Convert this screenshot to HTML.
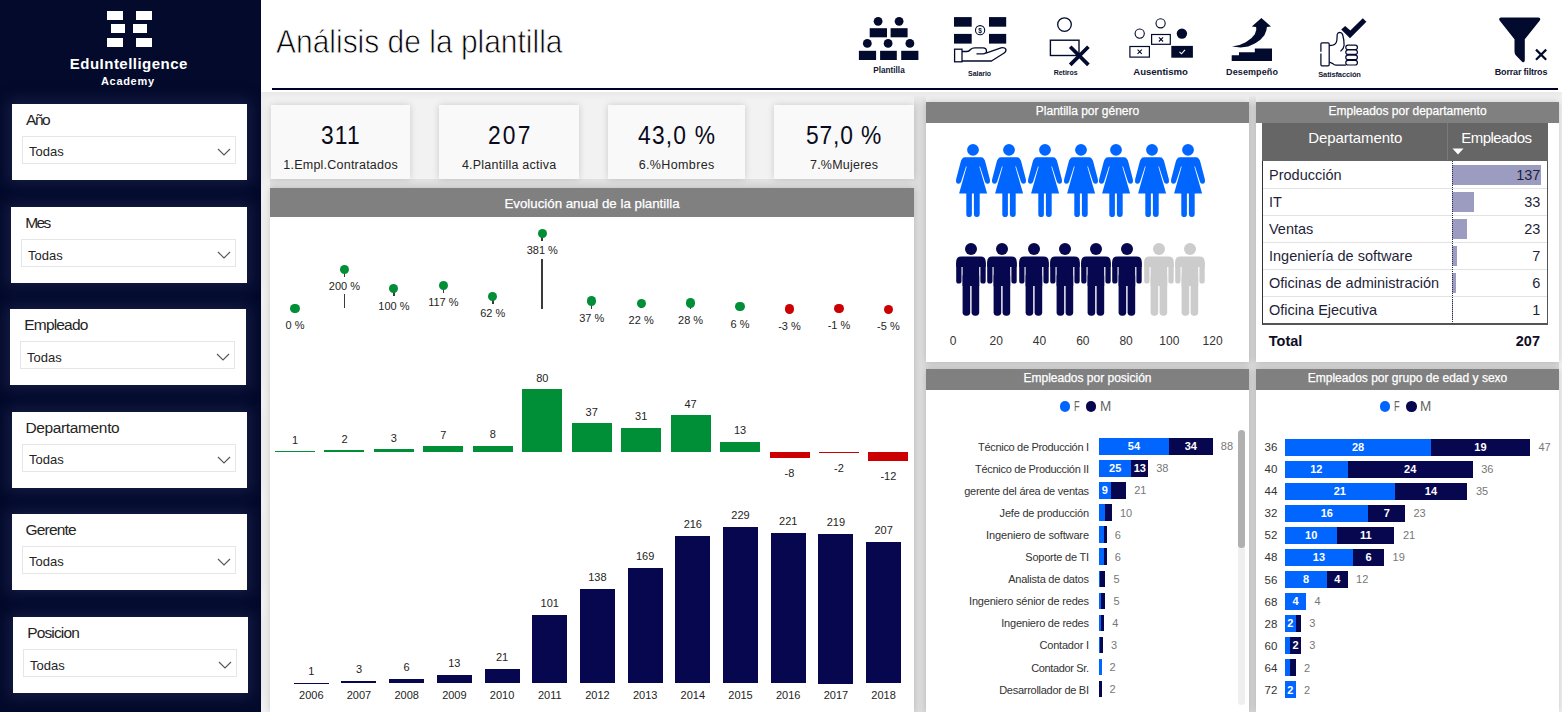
<!DOCTYPE html><html><head><meta charset="utf-8"><style>
*{margin:0;padding:0;box-sizing:border-box}
html,body{width:1562px;height:712px;overflow:hidden;background:#f2f2f2;font-family:"Liberation Sans",sans-serif}
.t{position:absolute;white-space:nowrap}
.r{position:absolute}
svg{position:absolute;overflow:visible}
</style></head><body>
<div class="r" style="left:261.00px;top:0.00px;width:1301.00px;height:92.00px;background:#ffffff;box-shadow:0 3px 8px rgba(0,0,0,0.05);"></div>
<div class="r" style="left:272.00px;top:88.00px;width:1286.00px;height:2.00px;background:#00002e;"></div>
<div class="t" style="left:276.00px;top:19.30px;font-size:32.5px;line-height:46px;color:#000000;transform:scaleX(0.922);transform-origin:0 0;-webkit-text-stroke:0.8px #ffffff;">Análisis de la plantilla</div>
<div class="r" style="left:0.00px;top:0.00px;width:261.00px;height:712.00px;background:#030a2b;"></div>
<div class="r" style="left:107.00px;top:10.70px;width:15.50px;height:9.30px;background:#ffffff;"></div>
<div class="r" style="left:135.80px;top:10.70px;width:15.80px;height:9.30px;background:#ffffff;"></div>
<div class="r" style="left:111.20px;top:24.20px;width:13.50px;height:8.80px;background:#ffffff;"></div>
<div class="r" style="left:133.30px;top:24.20px;width:13.60px;height:8.80px;background:#ffffff;"></div>
<div class="r" style="left:107.00px;top:38.00px;width:15.50px;height:9.00px;background:#ffffff;"></div>
<div class="r" style="left:135.80px;top:38.00px;width:15.80px;height:9.00px;background:#ffffff;"></div>
<div class="t" style="left:69.85px;top:53.30px;font-size:15px;line-height:21px;color:#ffffff;font-weight:bold;letter-spacing:0.476px;">EduIntelligence</div>
<div class="t" style="left:101.00px;top:71.30px;font-size:11px;line-height:20px;color:#ffffff;font-weight:bold;letter-spacing:0.681px;">Academy</div>
<div class="r" style="left:12.00px;top:104.00px;width:235.00px;height:76.00px;background:#ffffff;box-shadow:0 0 14px 4px rgba(40,48,95,0.5);"></div>
<div class="r" style="left:11.00px;top:207.00px;width:236.00px;height:76.00px;background:#ffffff;box-shadow:0 0 14px 4px rgba(40,48,95,0.5);"></div>
<div class="r" style="left:10.00px;top:309.00px;width:236.00px;height:76.00px;background:#ffffff;box-shadow:0 0 14px 4px rgba(40,48,95,0.5);"></div>
<div class="r" style="left:12.00px;top:412.00px;width:235.00px;height:76.00px;background:#ffffff;box-shadow:0 0 14px 4px rgba(40,48,95,0.5);"></div>
<div class="r" style="left:12.00px;top:514.00px;width:235.00px;height:76.00px;background:#ffffff;box-shadow:0 0 14px 4px rgba(40,48,95,0.5);"></div>
<div class="r" style="left:13.00px;top:617.00px;width:235.00px;height:76.00px;background:#ffffff;box-shadow:0 0 14px 4px rgba(40,48,95,0.5);"></div>
<div class="r" style="left:12.00px;top:104.00px;width:235.00px;height:76.00px;background:#ffffff;"></div>
<div class="t" style="left:26.00px;top:108.80px;font-size:15.5px;line-height:22px;color:#252423;letter-spacing:-1.439px;">Año</div>
<div class="r" style="left:22.00px;top:136.00px;width:214.00px;height:28.00px;background:#ffffff;border:1px solid #e6e6e6;"></div>
<div class="t" style="left:29.00px;top:141.80px;font-size:13px;line-height:20px;color:#252423;">Todas</div>
<svg style="left:217px;top:148px" width="14" height="8"><path d="M1 1 L7 7 L13 1" fill="none" stroke="#555" stroke-width="1.1"/></svg>
<div class="r" style="left:11.00px;top:207.00px;width:236.00px;height:76.00px;background:#ffffff;"></div>
<div class="t" style="left:25.30px;top:211.80px;font-size:15.5px;line-height:22px;color:#252423;letter-spacing:-1.640px;">Mes</div>
<div class="r" style="left:21.00px;top:239.00px;width:215.00px;height:28.00px;background:#ffffff;border:1px solid #e6e6e6;"></div>
<div class="t" style="left:28.00px;top:245.80px;font-size:13px;line-height:20px;color:#252423;">Todas</div>
<svg style="left:217px;top:251px" width="14" height="8"><path d="M1 1 L7 7 L13 1" fill="none" stroke="#555" stroke-width="1.1"/></svg>
<div class="r" style="left:10.00px;top:309.00px;width:236.00px;height:76.00px;background:#ffffff;"></div>
<div class="t" style="left:24.30px;top:313.80px;font-size:15.5px;line-height:22px;color:#252423;letter-spacing:-0.827px;">Empleado</div>
<div class="r" style="left:20.00px;top:341.00px;width:215.00px;height:28.00px;background:#ffffff;border:1px solid #e6e6e6;"></div>
<div class="t" style="left:27.00px;top:347.80px;font-size:13px;line-height:20px;color:#252423;">Todas</div>
<svg style="left:216px;top:353px" width="14" height="8"><path d="M1 1 L7 7 L13 1" fill="none" stroke="#555" stroke-width="1.1"/></svg>
<div class="r" style="left:12.00px;top:412.00px;width:235.00px;height:76.00px;background:#ffffff;"></div>
<div class="t" style="left:25.40px;top:416.80px;font-size:15.5px;line-height:22px;color:#252423;letter-spacing:-0.356px;">Departamento</div>
<div class="r" style="left:22.00px;top:444.00px;width:214.00px;height:28.00px;background:#ffffff;border:1px solid #e6e6e6;"></div>
<div class="t" style="left:29.00px;top:449.80px;font-size:13px;line-height:20px;color:#252423;">Todas</div>
<svg style="left:217px;top:456px" width="14" height="8"><path d="M1 1 L7 7 L13 1" fill="none" stroke="#555" stroke-width="1.1"/></svg>
<div class="r" style="left:12.00px;top:514.00px;width:235.00px;height:76.00px;background:#ffffff;"></div>
<div class="t" style="left:25.40px;top:518.80px;font-size:15.5px;line-height:22px;color:#252423;letter-spacing:-0.784px;">Gerente</div>
<div class="r" style="left:22.00px;top:546.00px;width:214.00px;height:28.00px;background:#ffffff;border:1px solid #e6e6e6;"></div>
<div class="t" style="left:29.00px;top:551.80px;font-size:13px;line-height:20px;color:#252423;">Todas</div>
<svg style="left:217px;top:558px" width="14" height="8"><path d="M1 1 L7 7 L13 1" fill="none" stroke="#555" stroke-width="1.1"/></svg>
<div class="r" style="left:13.00px;top:617.00px;width:235.00px;height:76.00px;background:#ffffff;"></div>
<div class="t" style="left:27.20px;top:621.80px;font-size:15.5px;line-height:22px;color:#252423;letter-spacing:-0.855px;">Posicion</div>
<div class="r" style="left:23.00px;top:649.00px;width:214.00px;height:28.00px;background:#ffffff;border:1px solid #e6e6e6;"></div>
<div class="t" style="left:30.00px;top:655.80px;font-size:13px;line-height:20px;color:#252423;">Todas</div>
<svg style="left:218px;top:661px" width="14" height="8"><path d="M1 1 L7 7 L13 1" fill="none" stroke="#555" stroke-width="1.1"/></svg>
<div class="r" style="left:914.00px;top:94.00px;width:12.00px;height:618.00px;background:linear-gradient(#ececec,#dddddd 12px);"></div>
<div class="r" style="left:1249.00px;top:94.00px;width:7.00px;height:618.00px;background:linear-gradient(#ececec,#d9d9d9 12px);"></div>
<div class="r" style="left:926.00px;top:362.00px;width:633.00px;height:7.00px;background:#dadada;"></div>
<div class="r" style="left:270.00px;top:179.00px;width:644.00px;height:9.00px;background:#e0e0e0;"></div>
<div class="r" style="left:271.00px;top:105.00px;width:139.00px;height:74.00px;background:#f9f9f9;box-shadow:0 0 7px rgba(0,0,0,0.16);"></div>
<div class="t" style="left:321.15px;top:116.30px;font-size:26.5px;line-height:38px;color:#0a0a1a;letter-spacing:1.379px;transform:scaleX(0.86);transform-origin:0 0;">311</div>
<div class="t" style="left:283.35px;top:155.30px;font-size:12.5px;line-height:20px;color:#252423;letter-spacing:0.225px;">1.Empl.Contratados</div>
<div class="r" style="left:439.00px;top:105.00px;width:140.00px;height:74.00px;background:#f9f9f9;box-shadow:0 0 7px rgba(0,0,0,0.16);"></div>
<div class="t" style="left:487.85px;top:116.30px;font-size:26.5px;line-height:38px;color:#0a0a1a;letter-spacing:2.488px;transform:scaleX(0.86);transform-origin:0 0;">207</div>
<div class="t" style="left:461.90px;top:155.30px;font-size:12.5px;line-height:20px;color:#252423;letter-spacing:0.228px;">4.Plantilla activa</div>
<div class="r" style="left:608.00px;top:105.00px;width:137.00px;height:74.00px;background:#f9f9f9;box-shadow:0 0 7px rgba(0,0,0,0.16);"></div>
<div class="t" style="left:638.00px;top:116.30px;font-size:26.5px;line-height:38px;color:#0a0a1a;letter-spacing:1.407px;transform:scaleX(0.86);transform-origin:0 0;">43,0 %</div>
<div class="t" style="left:638.70px;top:155.30px;font-size:12.5px;line-height:20px;color:#252423;letter-spacing:0.373px;">6.%Hombres</div>
<div class="r" style="left:774.00px;top:105.00px;width:140.00px;height:74.00px;background:#f9f9f9;box-shadow:0 0 7px rgba(0,0,0,0.16);"></div>
<div class="t" style="left:806.40px;top:116.30px;font-size:26.5px;line-height:38px;color:#0a0a1a;letter-spacing:0.989px;transform:scaleX(0.86);transform-origin:0 0;">57,0 %</div>
<div class="t" style="left:810.00px;top:155.30px;font-size:12.5px;line-height:20px;color:#252423;letter-spacing:0.223px;">7.%Mujeres</div>
<div class="r" style="left:270.00px;top:188.00px;width:644.00px;height:524.00px;background:#ffffff;box-shadow:0 0 7px rgba(0,0,0,0.18);"></div>
<div class="r" style="left:270.00px;top:188.00px;width:644.00px;height:29.00px;background:#808080;"></div>
<div class="t" style="left:504.39px;top:193.80px;font-size:13.3px;line-height:20px;color:#ffffff;-webkit-text-stroke:0.25px #ffffff;">Evolución anual de la plantilla</div>
<div class="r" style="left:926.00px;top:102.00px;width:323.00px;height:260.00px;background:#ffffff;box-shadow:0 0 7px rgba(0,0,0,0.18);"></div>
<div class="r" style="left:926.00px;top:102.00px;width:323.00px;height:21.00px;background:#808080;"></div>
<div class="t" style="left:1035.80px;top:101.30px;font-size:12px;line-height:20px;color:#ffffff;-webkit-text-stroke:0.25px #ffffff;">Plantilla por género</div>
<div class="r" style="left:1256.00px;top:102.00px;width:303.00px;height:260.00px;background:#ffffff;box-shadow:0 0 7px rgba(0,0,0,0.18);"></div>
<div class="r" style="left:1256.00px;top:102.00px;width:303.00px;height:21.00px;background:#808080;"></div>
<div class="t" style="left:1328.46px;top:101.30px;font-size:12px;line-height:20px;color:#ffffff;-webkit-text-stroke:0.25px #ffffff;">Empleados por departamento</div>
<div class="r" style="left:926.00px;top:369.00px;width:323.00px;height:343.00px;background:#ffffff;box-shadow:0 0 7px rgba(0,0,0,0.18);"></div>
<div class="r" style="left:926.00px;top:369.00px;width:323.00px;height:21.00px;background:#808080;"></div>
<div class="t" style="left:1023.47px;top:368.30px;font-size:12px;line-height:20px;color:#ffffff;-webkit-text-stroke:0.25px #ffffff;">Empleados por posición</div>
<div class="r" style="left:1256.00px;top:369.00px;width:303.00px;height:343.00px;background:#ffffff;box-shadow:0 0 7px rgba(0,0,0,0.18);"></div>
<div class="r" style="left:1256.00px;top:369.00px;width:303.00px;height:21.00px;background:#808080;"></div>
<div class="t" style="left:1307.78px;top:368.30px;font-size:12px;line-height:20px;color:#ffffff;-webkit-text-stroke:0.25px #ffffff;">Empleados por grupo de edad y sexo</div>
<div class="r" style="left:283.52px;top:315.90px;width:22.95px;height:17.50px;background:#ffffff;"></div>
<div class="t" style="left:285.52px;top:315.30px;font-size:11px;line-height:20px;color:#252423;">0 %</div>
<div class="r" style="left:290.40px;top:303.80px;width:9.2px;height:9.2px;border-radius:50%;background:#008e37"></div>
<div class="r" style="left:275.00px;top:451.02px;width:40.00px;height:0.78px;background:#008e37;"></div>
<div class="t" style="left:291.94px;top:430.30px;font-size:11px;line-height:20px;color:#252423;">1</div>
<div class="r" style="left:293.80px;top:682.82px;width:35.00px;height:0.68px;background:#07074f;"></div>
<div class="t" style="left:308.24px;top:661.30px;font-size:11px;line-height:20px;color:#252423;">1</div>
<div class="t" style="left:299.07px;top:685.30px;font-size:11px;line-height:20px;color:#252423;">2006</div>
<div class="r" style="left:343.65px;top:269.20px;width:1.60px;height:39.30px;background:#3a3a3a;"></div>
<div class="r" style="left:326.86px;top:276.70px;width:35.19px;height:17.50px;background:#ffffff;"></div>
<div class="t" style="left:328.86px;top:276.30px;font-size:11px;line-height:20px;color:#252423;">200 %</div>
<div class="r" style="left:339.85px;top:264.60px;width:9.2px;height:9.2px;border-radius:50%;background:#008e37"></div>
<div class="r" style="left:324.45px;top:450.24px;width:40.00px;height:1.56px;background:#008e37;"></div>
<div class="t" style="left:341.39px;top:429.30px;font-size:11px;line-height:20px;color:#252423;">2</div>
<div class="r" style="left:341.49px;top:681.46px;width:35.00px;height:2.04px;background:#07074f;"></div>
<div class="t" style="left:355.93px;top:659.30px;font-size:11px;line-height:20px;color:#252423;">3</div>
<div class="t" style="left:346.76px;top:685.30px;font-size:11px;line-height:20px;color:#252423;">2007</div>
<div class="r" style="left:393.10px;top:288.80px;width:1.60px;height:19.70px;background:#3a3a3a;"></div>
<div class="r" style="left:376.31px;top:296.30px;width:35.19px;height:17.50px;background:#ffffff;"></div>
<div class="t" style="left:378.31px;top:296.30px;font-size:11px;line-height:20px;color:#252423;">100 %</div>
<div class="r" style="left:389.30px;top:284.20px;width:9.2px;height:9.2px;border-radius:50%;background:#008e37"></div>
<div class="r" style="left:373.90px;top:449.46px;width:40.00px;height:2.34px;background:#008e37;"></div>
<div class="t" style="left:390.84px;top:428.30px;font-size:11px;line-height:20px;color:#252423;">3</div>
<div class="r" style="left:389.18px;top:679.41px;width:35.00px;height:4.09px;background:#07074f;"></div>
<div class="t" style="left:403.62px;top:657.30px;font-size:11px;line-height:20px;color:#252423;">6</div>
<div class="t" style="left:394.45px;top:685.30px;font-size:11px;line-height:20px;color:#252423;">2008</div>
<div class="r" style="left:442.55px;top:285.50px;width:1.60px;height:23.00px;background:#3a3a3a;"></div>
<div class="r" style="left:426.16px;top:293.00px;width:34.37px;height:17.50px;background:#ffffff;"></div>
<div class="t" style="left:428.16px;top:292.30px;font-size:11px;line-height:20px;color:#252423;">117 %</div>
<div class="r" style="left:438.75px;top:280.90px;width:9.2px;height:9.2px;border-radius:50%;background:#008e37"></div>
<div class="r" style="left:423.35px;top:446.34px;width:40.00px;height:5.46px;background:#008e37;"></div>
<div class="t" style="left:440.29px;top:425.30px;font-size:11px;line-height:20px;color:#252423;">7</div>
<div class="r" style="left:436.87px;top:674.64px;width:35.00px;height:8.86px;background:#07074f;"></div>
<div class="t" style="left:448.25px;top:653.30px;font-size:11px;line-height:20px;color:#252423;">13</div>
<div class="t" style="left:442.14px;top:685.30px;font-size:11px;line-height:20px;color:#252423;">2009</div>
<div class="r" style="left:492.00px;top:296.40px;width:1.60px;height:12.10px;background:#3a3a3a;"></div>
<div class="r" style="left:478.26px;top:303.90px;width:29.07px;height:17.50px;background:#ffffff;"></div>
<div class="t" style="left:480.26px;top:303.30px;font-size:11px;line-height:20px;color:#252423;">62 %</div>
<div class="r" style="left:488.20px;top:291.80px;width:9.2px;height:9.2px;border-radius:50%;background:#008e37"></div>
<div class="r" style="left:472.80px;top:445.56px;width:40.00px;height:6.24px;background:#008e37;"></div>
<div class="t" style="left:489.74px;top:424.30px;font-size:11px;line-height:20px;color:#252423;">8</div>
<div class="r" style="left:484.56px;top:669.19px;width:35.00px;height:14.31px;background:#07074f;"></div>
<div class="t" style="left:495.94px;top:647.30px;font-size:11px;line-height:20px;color:#252423;">21</div>
<div class="t" style="left:489.83px;top:685.30px;font-size:11px;line-height:20px;color:#252423;">2010</div>
<div class="r" style="left:541.45px;top:233.50px;width:1.60px;height:75.00px;background:#3a3a3a;"></div>
<div class="r" style="left:524.66px;top:241.00px;width:35.19px;height:17.50px;background:#ffffff;"></div>
<div class="t" style="left:526.66px;top:240.30px;font-size:11px;line-height:20px;color:#252423;">381 %</div>
<div class="r" style="left:537.65px;top:228.90px;width:9.2px;height:9.2px;border-radius:50%;background:#008e37"></div>
<div class="r" style="left:522.25px;top:389.40px;width:40.00px;height:62.40px;background:#008e37;"></div>
<div class="t" style="left:536.13px;top:368.30px;font-size:11px;line-height:20px;color:#252423;">80</div>
<div class="r" style="left:532.25px;top:614.67px;width:35.00px;height:68.83px;background:#07074f;"></div>
<div class="t" style="left:540.57px;top:593.30px;font-size:11px;line-height:20px;color:#252423;">101</div>
<div class="t" style="left:537.92px;top:685.30px;font-size:11px;line-height:20px;color:#252423;">2011</div>
<div class="r" style="left:590.90px;top:301.00px;width:1.60px;height:7.50px;background:#3a3a3a;"></div>
<div class="r" style="left:577.16px;top:308.50px;width:29.07px;height:17.50px;background:#ffffff;"></div>
<div class="t" style="left:579.16px;top:308.30px;font-size:11px;line-height:20px;color:#252423;">37 %</div>
<div class="r" style="left:587.10px;top:296.40px;width:9.2px;height:9.2px;border-radius:50%;background:#008e37"></div>
<div class="r" style="left:571.70px;top:422.94px;width:40.00px;height:28.86px;background:#008e37;"></div>
<div class="t" style="left:585.58px;top:402.30px;font-size:11px;line-height:20px;color:#252423;">37</div>
<div class="r" style="left:579.94px;top:589.45px;width:35.00px;height:94.05px;background:#07074f;"></div>
<div class="t" style="left:588.26px;top:567.30px;font-size:11px;line-height:20px;color:#252423;">138</div>
<div class="t" style="left:585.21px;top:685.30px;font-size:11px;line-height:20px;color:#252423;">2012</div>
<div class="r" style="left:640.35px;top:303.60px;width:1.60px;height:4.90px;background:#3a3a3a;"></div>
<div class="r" style="left:626.61px;top:311.10px;width:29.07px;height:17.50px;background:#ffffff;"></div>
<div class="t" style="left:628.61px;top:310.30px;font-size:11px;line-height:20px;color:#252423;">22 %</div>
<div class="r" style="left:636.55px;top:299.00px;width:9.2px;height:9.2px;border-radius:50%;background:#008e37"></div>
<div class="r" style="left:621.15px;top:427.62px;width:40.00px;height:24.18px;background:#008e37;"></div>
<div class="t" style="left:635.03px;top:406.30px;font-size:11px;line-height:20px;color:#252423;">31</div>
<div class="r" style="left:627.63px;top:568.33px;width:35.00px;height:115.17px;background:#07074f;"></div>
<div class="t" style="left:635.95px;top:546.30px;font-size:11px;line-height:20px;color:#252423;">169</div>
<div class="t" style="left:632.90px;top:685.30px;font-size:11px;line-height:20px;color:#252423;">2013</div>
<div class="r" style="left:689.80px;top:303.00px;width:1.60px;height:5.50px;background:#3a3a3a;"></div>
<div class="r" style="left:676.06px;top:310.50px;width:29.07px;height:17.50px;background:#ffffff;"></div>
<div class="t" style="left:678.06px;top:310.30px;font-size:11px;line-height:20px;color:#252423;">28 %</div>
<div class="r" style="left:686.00px;top:298.40px;width:9.2px;height:9.2px;border-radius:50%;background:#008e37"></div>
<div class="r" style="left:670.60px;top:415.14px;width:40.00px;height:36.66px;background:#008e37;"></div>
<div class="t" style="left:684.48px;top:394.30px;font-size:11px;line-height:20px;color:#252423;">47</div>
<div class="r" style="left:675.32px;top:536.30px;width:35.00px;height:147.20px;background:#07074f;"></div>
<div class="t" style="left:683.64px;top:514.30px;font-size:11px;line-height:20px;color:#252423;">216</div>
<div class="t" style="left:680.59px;top:685.30px;font-size:11px;line-height:20px;color:#252423;">2014</div>
<div class="r" style="left:728.57px;top:314.40px;width:22.95px;height:17.50px;background:#ffffff;"></div>
<div class="t" style="left:730.57px;top:314.30px;font-size:11px;line-height:20px;color:#252423;">6 %</div>
<div class="r" style="left:735.45px;top:302.30px;width:9.2px;height:9.2px;border-radius:50%;background:#008e37"></div>
<div class="r" style="left:720.05px;top:441.66px;width:40.00px;height:10.14px;background:#008e37;"></div>
<div class="t" style="left:733.93px;top:420.30px;font-size:11px;line-height:20px;color:#252423;">13</div>
<div class="r" style="left:723.01px;top:527.44px;width:35.00px;height:156.06px;background:#07074f;"></div>
<div class="t" style="left:731.33px;top:505.30px;font-size:11px;line-height:20px;color:#252423;">229</div>
<div class="t" style="left:728.28px;top:685.30px;font-size:11px;line-height:20px;color:#252423;">2015</div>
<div class="r" style="left:776.19px;top:316.50px;width:26.62px;height:17.50px;background:#ffffff;"></div>
<div class="t" style="left:778.19px;top:316.30px;font-size:11px;line-height:20px;color:#252423;">-3 %</div>
<div class="r" style="left:784.90px;top:304.40px;width:9.2px;height:9.2px;border-radius:50%;background:#cc0000"></div>
<div class="r" style="left:769.50px;top:451.80px;width:40.00px;height:6.24px;background:#cc0000;"></div>
<div class="t" style="left:784.61px;top:463.30px;font-size:11px;line-height:20px;color:#252423;">-8</div>
<div class="r" style="left:770.70px;top:532.89px;width:35.00px;height:150.61px;background:#07074f;"></div>
<div class="t" style="left:779.02px;top:511.30px;font-size:11px;line-height:20px;color:#252423;">221</div>
<div class="t" style="left:775.97px;top:685.30px;font-size:11px;line-height:20px;color:#252423;">2016</div>
<div class="r" style="left:825.64px;top:315.90px;width:26.62px;height:17.50px;background:#ffffff;"></div>
<div class="t" style="left:827.64px;top:315.30px;font-size:11px;line-height:20px;color:#252423;">-1 %</div>
<div class="r" style="left:834.35px;top:303.80px;width:9.2px;height:9.2px;border-radius:50%;background:#cc0000"></div>
<div class="r" style="left:818.95px;top:451.80px;width:40.00px;height:1.56px;background:#cc0000;"></div>
<div class="t" style="left:834.06px;top:458.30px;font-size:11px;line-height:20px;color:#252423;">-2</div>
<div class="r" style="left:818.39px;top:534.25px;width:35.00px;height:149.25px;background:#07074f;"></div>
<div class="t" style="left:826.71px;top:512.30px;font-size:11px;line-height:20px;color:#252423;">219</div>
<div class="t" style="left:823.66px;top:685.30px;font-size:11px;line-height:20px;color:#252423;">2017</div>
<div class="r" style="left:875.09px;top:316.80px;width:26.62px;height:17.50px;background:#ffffff;"></div>
<div class="t" style="left:877.09px;top:316.30px;font-size:11px;line-height:20px;color:#252423;">-5 %</div>
<div class="r" style="left:883.80px;top:304.70px;width:9.2px;height:9.2px;border-radius:50%;background:#cc0000"></div>
<div class="r" style="left:868.40px;top:451.80px;width:40.00px;height:9.36px;background:#cc0000;"></div>
<div class="t" style="left:880.45px;top:466.30px;font-size:11px;line-height:20px;color:#252423;">-12</div>
<div class="r" style="left:866.08px;top:542.43px;width:35.00px;height:141.07px;background:#07074f;"></div>
<div class="t" style="left:874.40px;top:520.30px;font-size:11px;line-height:20px;color:#252423;">207</div>
<div class="t" style="left:871.35px;top:685.30px;font-size:11px;line-height:20px;color:#252423;">2018</div>
<svg style="left:953.00px;top:144.10px" width="40" height="76" viewBox="-20 0 40 76"><g fill="#0066ff" stroke="none"><circle cx="0" cy="5.8" r="5.9"/><path d="M-7.8 13.2 L7.8 13.2 Q11.5 13.2 12.6 19 L16.9 35.5 Q17.5 39.8 14.5 39.8 Q12.5 39.8 12 38 L7 22.4 L-7 22.4 L-12 38 Q-12.5 39.8 -14.5 39.8 Q-17.5 39.8 -16.9 35.5 L-12.6 19 Q-11.5 13.2 -7.8 13.2 Z"/><path d="M-6.1 21.8 L6.1 21.8 L14.1 49.4 L-13.9 49.4 Z"/><rect x="-6.7" y="44" width="5.6" height="29" rx="2.8"/><rect x="0.9" y="44" width="5.8" height="29" rx="2.9"/></g></svg>
<svg style="left:988.85px;top:144.10px" width="40" height="76" viewBox="-20 0 40 76"><g fill="#0066ff" stroke="none"><circle cx="0" cy="5.8" r="5.9"/><path d="M-7.8 13.2 L7.8 13.2 Q11.5 13.2 12.6 19 L16.9 35.5 Q17.5 39.8 14.5 39.8 Q12.5 39.8 12 38 L7 22.4 L-7 22.4 L-12 38 Q-12.5 39.8 -14.5 39.8 Q-17.5 39.8 -16.9 35.5 L-12.6 19 Q-11.5 13.2 -7.8 13.2 Z"/><path d="M-6.1 21.8 L6.1 21.8 L14.1 49.4 L-13.9 49.4 Z"/><rect x="-6.7" y="44" width="5.6" height="29" rx="2.8"/><rect x="0.9" y="44" width="5.8" height="29" rx="2.9"/></g></svg>
<svg style="left:1024.70px;top:144.10px" width="40" height="76" viewBox="-20 0 40 76"><g fill="#0066ff" stroke="none"><circle cx="0" cy="5.8" r="5.9"/><path d="M-7.8 13.2 L7.8 13.2 Q11.5 13.2 12.6 19 L16.9 35.5 Q17.5 39.8 14.5 39.8 Q12.5 39.8 12 38 L7 22.4 L-7 22.4 L-12 38 Q-12.5 39.8 -14.5 39.8 Q-17.5 39.8 -16.9 35.5 L-12.6 19 Q-11.5 13.2 -7.8 13.2 Z"/><path d="M-6.1 21.8 L6.1 21.8 L14.1 49.4 L-13.9 49.4 Z"/><rect x="-6.7" y="44" width="5.6" height="29" rx="2.8"/><rect x="0.9" y="44" width="5.8" height="29" rx="2.9"/></g></svg>
<svg style="left:1060.55px;top:144.10px" width="40" height="76" viewBox="-20 0 40 76"><g fill="#0066ff" stroke="none"><circle cx="0" cy="5.8" r="5.9"/><path d="M-7.8 13.2 L7.8 13.2 Q11.5 13.2 12.6 19 L16.9 35.5 Q17.5 39.8 14.5 39.8 Q12.5 39.8 12 38 L7 22.4 L-7 22.4 L-12 38 Q-12.5 39.8 -14.5 39.8 Q-17.5 39.8 -16.9 35.5 L-12.6 19 Q-11.5 13.2 -7.8 13.2 Z"/><path d="M-6.1 21.8 L6.1 21.8 L14.1 49.4 L-13.9 49.4 Z"/><rect x="-6.7" y="44" width="5.6" height="29" rx="2.8"/><rect x="0.9" y="44" width="5.8" height="29" rx="2.9"/></g></svg>
<svg style="left:1096.40px;top:144.10px" width="40" height="76" viewBox="-20 0 40 76"><g fill="#0066ff" stroke="none"><circle cx="0" cy="5.8" r="5.9"/><path d="M-7.8 13.2 L7.8 13.2 Q11.5 13.2 12.6 19 L16.9 35.5 Q17.5 39.8 14.5 39.8 Q12.5 39.8 12 38 L7 22.4 L-7 22.4 L-12 38 Q-12.5 39.8 -14.5 39.8 Q-17.5 39.8 -16.9 35.5 L-12.6 19 Q-11.5 13.2 -7.8 13.2 Z"/><path d="M-6.1 21.8 L6.1 21.8 L14.1 49.4 L-13.9 49.4 Z"/><rect x="-6.7" y="44" width="5.6" height="29" rx="2.8"/><rect x="0.9" y="44" width="5.8" height="29" rx="2.9"/></g></svg>
<svg style="left:1132.25px;top:144.10px" width="40" height="76" viewBox="-20 0 40 76"><g fill="#0066ff" stroke="none"><circle cx="0" cy="5.8" r="5.9"/><path d="M-7.8 13.2 L7.8 13.2 Q11.5 13.2 12.6 19 L16.9 35.5 Q17.5 39.8 14.5 39.8 Q12.5 39.8 12 38 L7 22.4 L-7 22.4 L-12 38 Q-12.5 39.8 -14.5 39.8 Q-17.5 39.8 -16.9 35.5 L-12.6 19 Q-11.5 13.2 -7.8 13.2 Z"/><path d="M-6.1 21.8 L6.1 21.8 L14.1 49.4 L-13.9 49.4 Z"/><rect x="-6.7" y="44" width="5.6" height="29" rx="2.8"/><rect x="0.9" y="44" width="5.8" height="29" rx="2.9"/></g></svg>
<svg style="left:1168.10px;top:144.10px" width="40" height="76" viewBox="-20 0 40 76"><g fill="#0066ff" stroke="none"><circle cx="0" cy="5.8" r="5.9"/><path d="M-7.8 13.2 L7.8 13.2 Q11.5 13.2 12.6 19 L16.9 35.5 Q17.5 39.8 14.5 39.8 Q12.5 39.8 12 38 L7 22.4 L-7 22.4 L-12 38 Q-12.5 39.8 -14.5 39.8 Q-17.5 39.8 -16.9 35.5 L-12.6 19 Q-11.5 13.2 -7.8 13.2 Z"/><path d="M-6.1 21.8 L6.1 21.8 L14.1 49.4 L-13.9 49.4 Z"/><rect x="-6.7" y="44" width="5.6" height="29" rx="2.8"/><rect x="0.9" y="44" width="5.8" height="29" rx="2.9"/></g></svg>
<svg style="left:950.90px;top:242.80px" width="40" height="76" viewBox="-20 0 40 76"><g fill="#07074f" stroke="none"><circle cx="0" cy="6" r="6"/><path d="M-14.8 24 L-14.8 18.6 Q-14.8 13.4 -9.6 13.4 L9.5 13.4 Q14.7 13.4 14.7 18.6 L14.7 24 Z"/><rect x="-14.8" y="18" width="5.3" height="22.6" rx="2.6"/><rect x="9.4" y="18" width="5.3" height="22.6" rx="2.6"/><rect x="-8.4" y="18" width="16.6" height="25"/><rect x="-8.4" y="30" width="7.6" height="42.7" rx="3.4"/><rect x="0.6" y="30" width="7.6" height="42.7" rx="3.4"/></g></svg>
<svg style="left:982.20px;top:242.80px" width="40" height="76" viewBox="-20 0 40 76"><g fill="#07074f" stroke="none"><circle cx="0" cy="6" r="6"/><path d="M-14.8 24 L-14.8 18.6 Q-14.8 13.4 -9.6 13.4 L9.5 13.4 Q14.7 13.4 14.7 18.6 L14.7 24 Z"/><rect x="-14.8" y="18" width="5.3" height="22.6" rx="2.6"/><rect x="9.4" y="18" width="5.3" height="22.6" rx="2.6"/><rect x="-8.4" y="18" width="16.6" height="25"/><rect x="-8.4" y="30" width="7.6" height="42.7" rx="3.4"/><rect x="0.6" y="30" width="7.6" height="42.7" rx="3.4"/></g></svg>
<svg style="left:1013.50px;top:242.80px" width="40" height="76" viewBox="-20 0 40 76"><g fill="#07074f" stroke="none"><circle cx="0" cy="6" r="6"/><path d="M-14.8 24 L-14.8 18.6 Q-14.8 13.4 -9.6 13.4 L9.5 13.4 Q14.7 13.4 14.7 18.6 L14.7 24 Z"/><rect x="-14.8" y="18" width="5.3" height="22.6" rx="2.6"/><rect x="9.4" y="18" width="5.3" height="22.6" rx="2.6"/><rect x="-8.4" y="18" width="16.6" height="25"/><rect x="-8.4" y="30" width="7.6" height="42.7" rx="3.4"/><rect x="0.6" y="30" width="7.6" height="42.7" rx="3.4"/></g></svg>
<svg style="left:1044.80px;top:242.80px" width="40" height="76" viewBox="-20 0 40 76"><g fill="#07074f" stroke="none"><circle cx="0" cy="6" r="6"/><path d="M-14.8 24 L-14.8 18.6 Q-14.8 13.4 -9.6 13.4 L9.5 13.4 Q14.7 13.4 14.7 18.6 L14.7 24 Z"/><rect x="-14.8" y="18" width="5.3" height="22.6" rx="2.6"/><rect x="9.4" y="18" width="5.3" height="22.6" rx="2.6"/><rect x="-8.4" y="18" width="16.6" height="25"/><rect x="-8.4" y="30" width="7.6" height="42.7" rx="3.4"/><rect x="0.6" y="30" width="7.6" height="42.7" rx="3.4"/></g></svg>
<svg style="left:1076.10px;top:242.80px" width="40" height="76" viewBox="-20 0 40 76"><g fill="#07074f" stroke="none"><circle cx="0" cy="6" r="6"/><path d="M-14.8 24 L-14.8 18.6 Q-14.8 13.4 -9.6 13.4 L9.5 13.4 Q14.7 13.4 14.7 18.6 L14.7 24 Z"/><rect x="-14.8" y="18" width="5.3" height="22.6" rx="2.6"/><rect x="9.4" y="18" width="5.3" height="22.6" rx="2.6"/><rect x="-8.4" y="18" width="16.6" height="25"/><rect x="-8.4" y="30" width="7.6" height="42.7" rx="3.4"/><rect x="0.6" y="30" width="7.6" height="42.7" rx="3.4"/></g></svg>
<svg style="left:1107.40px;top:242.80px" width="40" height="76" viewBox="-20 0 40 76"><g fill="#07074f" stroke="none"><circle cx="0" cy="6" r="6"/><path d="M-14.8 24 L-14.8 18.6 Q-14.8 13.4 -9.6 13.4 L9.5 13.4 Q14.7 13.4 14.7 18.6 L14.7 24 Z"/><rect x="-14.8" y="18" width="5.3" height="22.6" rx="2.6"/><rect x="9.4" y="18" width="5.3" height="22.6" rx="2.6"/><rect x="-8.4" y="18" width="16.6" height="25"/><rect x="-8.4" y="30" width="7.6" height="42.7" rx="3.4"/><rect x="0.6" y="30" width="7.6" height="42.7" rx="3.4"/></g></svg>
<svg style="left:1138.70px;top:242.80px" width="40" height="76" viewBox="-20 0 40 76"><g fill="#cccccc" stroke="none"><circle cx="0" cy="6" r="6"/><path d="M-14.8 24 L-14.8 18.6 Q-14.8 13.4 -9.6 13.4 L9.5 13.4 Q14.7 13.4 14.7 18.6 L14.7 24 Z"/><rect x="-14.8" y="18" width="5.3" height="22.6" rx="2.6"/><rect x="9.4" y="18" width="5.3" height="22.6" rx="2.6"/><rect x="-8.4" y="18" width="16.6" height="25"/><rect x="-8.4" y="30" width="7.6" height="42.7" rx="3.4"/><rect x="0.6" y="30" width="7.6" height="42.7" rx="3.4"/></g></svg>
<svg style="left:1170.00px;top:242.80px" width="40" height="76" viewBox="-20 0 40 76"><g fill="#cccccc" stroke="none"><circle cx="0" cy="6" r="6"/><path d="M-14.8 24 L-14.8 18.6 Q-14.8 13.4 -9.6 13.4 L9.5 13.4 Q14.7 13.4 14.7 18.6 L14.7 24 Z"/><rect x="-14.8" y="18" width="5.3" height="22.6" rx="2.6"/><rect x="9.4" y="18" width="5.3" height="22.6" rx="2.6"/><rect x="-8.4" y="18" width="16.6" height="25"/><rect x="-8.4" y="30" width="7.6" height="42.7" rx="3.4"/><rect x="0.6" y="30" width="7.6" height="42.7" rx="3.4"/></g></svg>
<div class="t" style="left:949.66px;top:331.30px;font-size:12px;line-height:20px;color:#333333;">0</div>
<div class="t" style="left:989.60px;top:331.30px;font-size:12px;line-height:20px;color:#333333;">20</div>
<div class="t" style="left:1032.87px;top:331.30px;font-size:12px;line-height:20px;color:#333333;">40</div>
<div class="t" style="left:1076.14px;top:331.30px;font-size:12px;line-height:20px;color:#333333;">60</div>
<div class="t" style="left:1119.41px;top:331.30px;font-size:12px;line-height:20px;color:#333333;">80</div>
<div class="t" style="left:1159.34px;top:331.30px;font-size:12px;line-height:20px;color:#333333;">100</div>
<div class="t" style="left:1202.61px;top:331.30px;font-size:12px;line-height:20px;color:#333333;">120</div>
<div class="r" style="left:1262.00px;top:123.00px;width:286.00px;height:37.50px;background:#666666;"></div>
<div class="r" style="left:1447.00px;top:123.00px;width:1.00px;height:37.00px;background:#7a7a7a;"></div>
<div class="t" style="left:1308.25px;top:127.30px;font-size:15px;line-height:21px;color:#ffffff;letter-spacing:-0.086px;">Departamento</div>
<div class="t" style="left:1461.25px;top:127.30px;font-size:15px;line-height:21px;color:#ffffff;letter-spacing:-0.542px;">Empleados</div>
<svg style="left:1452px;top:148px" width="12" height="7"><path d="M0.5 0.5 L11.5 0.5 L6 6.5 Z" fill="#ffffff"/></svg>
<div class="r" style="left:1262.00px;top:160.50px;width:286.00px;height:164.50px;background:#ffffff;border-left:1px solid #333;border-right:1px solid #555;border-bottom:2px solid #555;"></div>
<div class="r" style="left:1452.30px;top:165.00px;width:88.64px;height:19.50px;background:#9c9cc0;"></div>
<div class="t" style="left:1269.00px;top:164.80px;font-size:14.5px;line-height:21px;color:#1f1f3a;">Producción</div>
<div class="t" style="left:1516.21px;top:164.80px;font-size:14.5px;line-height:21px;color:#1f1f3a;">137</div>
<div class="r" style="left:1263.00px;top:187.50px;width:284.00px;height:1.00px;background:#e3e3e3;"></div>
<div class="r" style="left:1452.30px;top:192.00px;width:21.35px;height:19.50px;background:#9c9cc0;"></div>
<div class="t" style="left:1269.00px;top:191.80px;font-size:14.5px;line-height:21px;color:#1f1f3a;">IT</div>
<div class="t" style="left:1524.27px;top:191.80px;font-size:14.5px;line-height:21px;color:#1f1f3a;">33</div>
<div class="r" style="left:1263.00px;top:214.50px;width:284.00px;height:1.00px;background:#e3e3e3;"></div>
<div class="r" style="left:1452.30px;top:219.00px;width:14.88px;height:19.50px;background:#9c9cc0;"></div>
<div class="t" style="left:1269.00px;top:218.80px;font-size:14.5px;line-height:21px;color:#1f1f3a;">Ventas</div>
<div class="t" style="left:1524.27px;top:218.80px;font-size:14.5px;line-height:21px;color:#1f1f3a;">23</div>
<div class="r" style="left:1263.00px;top:241.50px;width:284.00px;height:1.00px;background:#e3e3e3;"></div>
<div class="r" style="left:1452.30px;top:246.00px;width:4.53px;height:19.50px;background:#9c9cc0;"></div>
<div class="t" style="left:1269.00px;top:245.80px;font-size:14.5px;line-height:21px;color:#1f1f3a;">Ingeniería de software</div>
<div class="t" style="left:1532.34px;top:245.80px;font-size:14.5px;line-height:21px;color:#1f1f3a;">7</div>
<div class="r" style="left:1263.00px;top:268.50px;width:284.00px;height:1.00px;background:#e3e3e3;"></div>
<div class="r" style="left:1452.30px;top:273.00px;width:3.88px;height:19.50px;background:#9c9cc0;"></div>
<div class="t" style="left:1269.00px;top:272.80px;font-size:14.5px;line-height:21px;color:#1f1f3a;">Oficinas de administración</div>
<div class="t" style="left:1532.34px;top:272.80px;font-size:14.5px;line-height:21px;color:#1f1f3a;">6</div>
<div class="r" style="left:1263.00px;top:295.50px;width:284.00px;height:1.00px;background:#e3e3e3;"></div>
<div class="r" style="left:1452.30px;top:300.00px;width:0.65px;height:19.50px;background:#9c9cc0;"></div>
<div class="t" style="left:1269.00px;top:299.80px;font-size:14.5px;line-height:21px;color:#1f1f3a;">Oficina Ejecutiva</div>
<div class="t" style="left:1532.34px;top:299.80px;font-size:14.5px;line-height:21px;color:#1f1f3a;">1</div>
<div class="r" style="left:1452px;top:161px;width:0;height:163px;border-left:1px dotted #2a2a55"></div>
<div class="t" style="left:1268.80px;top:330.80px;font-size:14.5px;line-height:21px;color:#0d0d26;font-weight:bold;">Total</div>
<div class="t" style="left:1515.81px;top:330.80px;font-size:14.5px;line-height:21px;color:#0d0d26;font-weight:bold;">207</div>
<div class="r" style="left:1059.75px;top:401.1px;width:10.5px;height:10.5px;border-radius:50%;background:#0066ff"></div>
<div class="t" style="left:1073.80px;top:395.30px;font-size:15px;line-height:21px;color:#666666;transform:scaleX(0.62);transform-origin:0 0;">F</div>
<div class="r" style="left:1085.95px;top:401.1px;width:10.5px;height:10.5px;border-radius:50%;background:#07074f"></div>
<div class="t" style="left:1099.90px;top:395.30px;font-size:15px;line-height:21px;color:#666666;transform:scaleX(0.9);transform-origin:0 0;">M</div>
<div class="r" style="left:1379.55px;top:401.1px;width:10.5px;height:10.5px;border-radius:50%;background:#0066ff"></div>
<div class="t" style="left:1393.60px;top:395.30px;font-size:15px;line-height:21px;color:#666666;transform:scaleX(0.62);transform-origin:0 0;">F</div>
<div class="r" style="left:1406.05px;top:401.1px;width:10.5px;height:10.5px;border-radius:50%;background:#07074f"></div>
<div class="t" style="left:1420.00px;top:395.30px;font-size:15px;line-height:21px;color:#666666;transform:scaleX(0.9);transform-origin:0 0;">M</div>
<div class="r" style="left:1099.00px;top:438.20px;width:69.88px;height:16.40px;background:#0066ff;"></div>
<div class="r" style="left:1168.88px;top:438.20px;width:44.00px;height:16.40px;background:#07074f;"></div>
<div class="t" style="left:978.10px;top:437.30px;font-size:11px;line-height:20px;color:#333333;letter-spacing:-0.323px;">Técnico de Producción I</div>
<div class="t" style="left:1220.87px;top:436.30px;font-size:11px;line-height:20px;color:#777777;">88</div>
<div class="t" style="left:1127.82px;top:436.30px;font-size:11px;line-height:20px;color:#ffffff;font-weight:bold;">54</div>
<div class="t" style="left:1184.76px;top:436.30px;font-size:11px;line-height:20px;color:#ffffff;font-weight:bold;">34</div>
<div class="r" style="left:1099.00px;top:460.25px;width:32.35px;height:16.40px;background:#0066ff;"></div>
<div class="r" style="left:1131.35px;top:460.25px;width:16.82px;height:16.40px;background:#07074f;"></div>
<div class="t" style="left:975.10px;top:459.30px;font-size:11px;line-height:20px;color:#333333;letter-spacing:-0.311px;">Técnico de Producción II</div>
<div class="t" style="left:1156.17px;top:458.30px;font-size:11px;line-height:20px;color:#777777;">38</div>
<div class="t" style="left:1109.06px;top:458.30px;font-size:11px;line-height:20px;color:#ffffff;font-weight:bold;">25</div>
<div class="t" style="left:1133.64px;top:458.30px;font-size:11px;line-height:20px;color:#ffffff;font-weight:bold;">13</div>
<div class="r" style="left:1099.00px;top:482.30px;width:11.65px;height:16.40px;background:#0066ff;"></div>
<div class="r" style="left:1110.65px;top:482.30px;width:15.53px;height:16.40px;background:#07074f;"></div>
<div class="t" style="left:964.20px;top:481.30px;font-size:11px;line-height:20px;color:#333333;letter-spacing:-0.242px;">gerente del área de ventas</div>
<div class="t" style="left:1134.17px;top:480.30px;font-size:11px;line-height:20px;color:#777777;">21</div>
<div class="t" style="left:1101.76px;top:480.30px;font-size:11px;line-height:20px;color:#ffffff;font-weight:bold;">9</div>
<div class="r" style="left:1099.00px;top:504.35px;width:6.47px;height:16.40px;background:#0066ff;"></div>
<div class="r" style="left:1105.47px;top:504.35px;width:6.47px;height:16.40px;background:#07074f;"></div>
<div class="t" style="left:999.60px;top:503.30px;font-size:11px;line-height:20px;color:#333333;letter-spacing:-0.209px;">Jefe de producción</div>
<div class="t" style="left:1119.94px;top:503.30px;font-size:11px;line-height:20px;color:#777777;">10</div>
<div class="r" style="left:1099.00px;top:526.40px;width:5.18px;height:16.40px;background:#0066ff;"></div>
<div class="r" style="left:1104.18px;top:526.40px;width:2.59px;height:16.40px;background:#07074f;"></div>
<div class="t" style="left:986.10px;top:525.30px;font-size:11px;line-height:20px;color:#333333;letter-spacing:-0.144px;">Ingeniero de software</div>
<div class="t" style="left:1114.76px;top:525.30px;font-size:11px;line-height:20px;color:#777777;">6</div>
<div class="r" style="left:1099.00px;top:548.45px;width:5.18px;height:16.40px;background:#0066ff;"></div>
<div class="r" style="left:1104.18px;top:548.45px;width:2.59px;height:16.40px;background:#07074f;"></div>
<div class="t" style="left:1025.30px;top:547.30px;font-size:11px;line-height:20px;color:#333333;letter-spacing:-0.229px;">Soporte de TI</div>
<div class="t" style="left:1114.76px;top:547.30px;font-size:11px;line-height:20px;color:#777777;">6</div>
<div class="r" style="left:1099.00px;top:570.50px;width:1.29px;height:16.40px;background:#0066ff;"></div>
<div class="r" style="left:1100.29px;top:570.50px;width:5.18px;height:16.40px;background:#07074f;"></div>
<div class="t" style="left:1008.20px;top:569.30px;font-size:11px;line-height:20px;color:#333333;letter-spacing:-0.224px;">Analista de datos</div>
<div class="t" style="left:1113.47px;top:569.30px;font-size:11px;line-height:20px;color:#777777;">5</div>
<div class="r" style="left:1099.00px;top:592.55px;width:1.94px;height:16.40px;background:#0066ff;"></div>
<div class="r" style="left:1100.94px;top:592.55px;width:4.53px;height:16.40px;background:#07074f;"></div>
<div class="t" style="left:969.10px;top:591.30px;font-size:11px;line-height:20px;color:#333333;letter-spacing:-0.202px;">Ingeniero sénior de redes</div>
<div class="t" style="left:1113.47px;top:591.30px;font-size:11px;line-height:20px;color:#777777;">5</div>
<div class="r" style="left:1099.00px;top:614.60px;width:1.94px;height:16.40px;background:#0066ff;"></div>
<div class="r" style="left:1100.94px;top:614.60px;width:3.23px;height:16.40px;background:#07074f;"></div>
<div class="t" style="left:1001.30px;top:613.30px;font-size:11px;line-height:20px;color:#333333;letter-spacing:-0.237px;">Ingeniero de redes</div>
<div class="t" style="left:1112.18px;top:613.30px;font-size:11px;line-height:20px;color:#777777;">4</div>
<div class="r" style="left:1099.00px;top:636.65px;width:0.65px;height:16.40px;background:#0066ff;"></div>
<div class="r" style="left:1099.65px;top:636.65px;width:3.24px;height:16.40px;background:#07074f;"></div>
<div class="t" style="left:1039.60px;top:635.30px;font-size:11px;line-height:20px;color:#333333;letter-spacing:-0.218px;">Contador I</div>
<div class="t" style="left:1110.88px;top:635.30px;font-size:11px;line-height:20px;color:#777777;">3</div>
<div class="r" style="left:1099.00px;top:658.70px;width:2.59px;height:16.40px;background:#0066ff;"></div>
<div class="t" style="left:1031.20px;top:658.30px;font-size:11px;line-height:20px;color:#333333;letter-spacing:-0.359px;">Contador Sr.</div>
<div class="t" style="left:1109.59px;top:657.30px;font-size:11px;line-height:20px;color:#777777;">2</div>
<div class="r" style="left:1099.00px;top:680.75px;width:2.59px;height:16.40px;background:#07074f;"></div>
<div class="t" style="left:999.20px;top:680.30px;font-size:11px;line-height:20px;color:#333333;letter-spacing:-0.276px;">Desarrollador de BI</div>
<div class="t" style="left:1109.59px;top:679.30px;font-size:11px;line-height:20px;color:#777777;">2</div>
<div class="r" style="left:1238.00px;top:430.00px;width:7.00px;height:275.00px;background:#efefef;border-radius:3.5px;"></div>
<div class="r" style="left:1238.00px;top:430.00px;width:7.00px;height:117.50px;background:#b0b0b0;border-radius:3.5px;"></div>
<div class="r" style="left:1285.10px;top:438.50px;width:145.88px;height:17.00px;background:#0066ff;"></div>
<div class="r" style="left:1430.98px;top:438.50px;width:98.99px;height:17.00px;background:#07074f;"></div>
<div class="t" style="left:1264.60px;top:437.30px;font-size:11.5px;line-height:20px;color:#333333;">36</div>
<div class="t" style="left:1538.47px;top:437.30px;font-size:11px;line-height:20px;color:#777777;">47</div>
<div class="t" style="left:1351.92px;top:437.30px;font-size:11px;line-height:20px;color:#ffffff;font-weight:bold;">28</div>
<div class="t" style="left:1474.36px;top:437.30px;font-size:11px;line-height:20px;color:#ffffff;font-weight:bold;">19</div>
<div class="r" style="left:1285.10px;top:460.55px;width:62.52px;height:17.00px;background:#0066ff;"></div>
<div class="r" style="left:1347.62px;top:460.55px;width:125.04px;height:17.00px;background:#07074f;"></div>
<div class="t" style="left:1264.60px;top:459.30px;font-size:11.5px;line-height:20px;color:#333333;">40</div>
<div class="t" style="left:1481.16px;top:459.30px;font-size:11px;line-height:20px;color:#777777;">36</div>
<div class="t" style="left:1310.24px;top:459.30px;font-size:11px;line-height:20px;color:#ffffff;font-weight:bold;">12</div>
<div class="t" style="left:1404.02px;top:459.30px;font-size:11px;line-height:20px;color:#ffffff;font-weight:bold;">24</div>
<div class="r" style="left:1285.10px;top:482.60px;width:109.41px;height:17.00px;background:#0066ff;"></div>
<div class="r" style="left:1394.51px;top:482.60px;width:72.94px;height:17.00px;background:#07074f;"></div>
<div class="t" style="left:1264.60px;top:481.30px;font-size:11.5px;line-height:20px;color:#333333;">44</div>
<div class="t" style="left:1475.95px;top:481.30px;font-size:11px;line-height:20px;color:#777777;">35</div>
<div class="t" style="left:1333.69px;top:481.30px;font-size:11px;line-height:20px;color:#ffffff;font-weight:bold;">21</div>
<div class="t" style="left:1424.86px;top:481.30px;font-size:11px;line-height:20px;color:#ffffff;font-weight:bold;">14</div>
<div class="r" style="left:1285.10px;top:504.65px;width:83.36px;height:17.00px;background:#0066ff;"></div>
<div class="r" style="left:1368.46px;top:504.65px;width:36.47px;height:17.00px;background:#07074f;"></div>
<div class="t" style="left:1264.60px;top:503.30px;font-size:11.5px;line-height:20px;color:#333333;">32</div>
<div class="t" style="left:1413.43px;top:503.30px;font-size:11px;line-height:20px;color:#777777;">23</div>
<div class="t" style="left:1320.66px;top:503.30px;font-size:11px;line-height:20px;color:#ffffff;font-weight:bold;">16</div>
<div class="t" style="left:1383.64px;top:503.30px;font-size:11px;line-height:20px;color:#ffffff;font-weight:bold;">7</div>
<div class="r" style="left:1285.10px;top:526.70px;width:52.10px;height:17.00px;background:#0066ff;"></div>
<div class="r" style="left:1337.20px;top:526.70px;width:57.31px;height:17.00px;background:#07074f;"></div>
<div class="t" style="left:1264.60px;top:525.30px;font-size:11.5px;line-height:20px;color:#333333;">52</div>
<div class="t" style="left:1403.01px;top:525.30px;font-size:11px;line-height:20px;color:#777777;">21</div>
<div class="t" style="left:1305.03px;top:525.30px;font-size:11px;line-height:20px;color:#ffffff;font-weight:bold;">10</div>
<div class="t" style="left:1360.04px;top:525.30px;font-size:11px;line-height:20px;color:#ffffff;font-weight:bold;">11</div>
<div class="r" style="left:1285.10px;top:548.75px;width:67.73px;height:17.00px;background:#0066ff;"></div>
<div class="r" style="left:1352.83px;top:548.75px;width:31.26px;height:17.00px;background:#07074f;"></div>
<div class="t" style="left:1264.60px;top:547.30px;font-size:11.5px;line-height:20px;color:#333333;">48</div>
<div class="t" style="left:1392.59px;top:547.30px;font-size:11px;line-height:20px;color:#777777;">19</div>
<div class="t" style="left:1312.85px;top:547.30px;font-size:11px;line-height:20px;color:#ffffff;font-weight:bold;">13</div>
<div class="t" style="left:1365.40px;top:547.30px;font-size:11px;line-height:20px;color:#ffffff;font-weight:bold;">6</div>
<div class="r" style="left:1285.10px;top:570.80px;width:41.68px;height:17.00px;background:#0066ff;"></div>
<div class="r" style="left:1326.78px;top:570.80px;width:20.84px;height:17.00px;background:#07074f;"></div>
<div class="t" style="left:1264.60px;top:570.30px;font-size:11.5px;line-height:20px;color:#333333;">56</div>
<div class="t" style="left:1356.12px;top:569.30px;font-size:11px;line-height:20px;color:#777777;">12</div>
<div class="t" style="left:1302.88px;top:569.30px;font-size:11px;line-height:20px;color:#ffffff;font-weight:bold;">8</div>
<div class="t" style="left:1334.14px;top:569.30px;font-size:11px;line-height:20px;color:#ffffff;font-weight:bold;">4</div>
<div class="r" style="left:1285.10px;top:592.85px;width:20.84px;height:17.00px;background:#0066ff;"></div>
<div class="t" style="left:1264.60px;top:592.30px;font-size:11.5px;line-height:20px;color:#333333;">68</div>
<div class="t" style="left:1314.44px;top:591.30px;font-size:11px;line-height:20px;color:#777777;">4</div>
<div class="t" style="left:1292.46px;top:591.30px;font-size:11px;line-height:20px;color:#ffffff;font-weight:bold;">4</div>
<div class="r" style="left:1285.10px;top:614.90px;width:10.42px;height:17.00px;background:#0066ff;"></div>
<div class="r" style="left:1295.52px;top:614.90px;width:5.21px;height:17.00px;background:#07074f;"></div>
<div class="t" style="left:1264.60px;top:614.30px;font-size:11.5px;line-height:20px;color:#333333;">28</div>
<div class="t" style="left:1309.23px;top:613.30px;font-size:11px;line-height:20px;color:#777777;">3</div>
<div class="t" style="left:1287.25px;top:613.30px;font-size:11px;line-height:20px;color:#ffffff;font-weight:bold;">2</div>
<div class="r" style="left:1285.10px;top:636.95px;width:5.21px;height:17.00px;background:#0066ff;"></div>
<div class="r" style="left:1290.31px;top:636.95px;width:10.42px;height:17.00px;background:#07074f;"></div>
<div class="t" style="left:1264.60px;top:636.30px;font-size:11.5px;line-height:20px;color:#333333;">60</div>
<div class="t" style="left:1309.23px;top:635.30px;font-size:11px;line-height:20px;color:#777777;">3</div>
<div class="t" style="left:1292.46px;top:635.30px;font-size:11px;line-height:20px;color:#ffffff;font-weight:bold;">2</div>
<div class="r" style="left:1285.10px;top:659.00px;width:5.21px;height:17.00px;background:#0066ff;"></div>
<div class="r" style="left:1290.31px;top:659.00px;width:5.21px;height:17.00px;background:#07074f;"></div>
<div class="t" style="left:1264.60px;top:658.30px;font-size:11.5px;line-height:20px;color:#333333;">64</div>
<div class="t" style="left:1304.02px;top:658.30px;font-size:11px;line-height:20px;color:#777777;">2</div>
<div class="r" style="left:1285.10px;top:681.05px;width:10.42px;height:17.00px;background:#0066ff;"></div>
<div class="t" style="left:1264.60px;top:680.30px;font-size:11.5px;line-height:20px;color:#333333;">72</div>
<div class="t" style="left:1304.02px;top:680.30px;font-size:11px;line-height:20px;color:#777777;">2</div>
<div class="t" style="left:1287.25px;top:680.30px;font-size:11px;line-height:20px;color:#ffffff;font-weight:bold;">2</div>
<svg style="left:0;top:0" width="1562" height="92" viewBox="0 0 1562 92"><circle cx="878.1" cy="21.3" r="4.4" fill="#020b2e"/><circle cx="899.1" cy="21.3" r="4.4" fill="#020b2e"/><circle cx="867.3" cy="43.4" r="4.4" fill="#020b2e"/><circle cx="888.1" cy="43.4" r="4.4" fill="#020b2e"/><circle cx="909.9" cy="43.4" r="4.4" fill="#020b2e"/><rect x="869.7" y="28.2" width="17.3" height="9.1" fill="#020b2e"/><rect x="890.6" y="28.2" width="17.0" height="9.1" fill="#020b2e"/><rect x="858.9" y="50.8" width="17.2" height="9.2" fill="#020b2e"/><rect x="880.1" y="50.8" width="16.7" height="9.2" fill="#020b2e"/><rect x="901.2" y="50.8" width="17.2" height="9.2" fill="#020b2e"/><rect x="954" y="17.1" width="17.7" height="9.6" fill="#020b2e"/><rect x="989" y="17.1" width="17.2" height="9.6" fill="#020b2e"/><rect x="954" y="33.9" width="17.7" height="9.7" fill="#020b2e"/><rect x="989" y="33.9" width="17.2" height="9.7" fill="#020b2e"/><circle cx="980.1" cy="30.2" r="4.6" fill="none" stroke="#020b2e" stroke-width="1.1"/><text x="980.1" y="32.6" font-size="6.5" font-weight="bold" text-anchor="middle" fill="#020b2e" font-family="Liberation Sans">$</text><rect x="954.6" y="49.2" width="7.4" height="12.6" fill="none" stroke="#020b2e" stroke-width="1.3"/><path d="M962 51.5 L967 51.5 Q969 51.5 970.5 49.5 Q972 47.8 975 47.8 L983 47.8 Q986.5 47.8 986.5 51 Q986.5 53.8 983 53.8 L976.5 53.8 M986 53.2 L1001 47.8 Q1004.5 47 1005.8 49.2 Q1006.6 51.5 1003.8 53.3 L991.5 61 L962 61" fill="none" stroke="#020b2e" stroke-width="1.3" stroke-linejoin="round"/><circle cx="1064.5" cy="24.6" r="6.8" fill="none" stroke="#020b2e" stroke-width="1.3"/><rect x="1050.4" y="40.2" width="28.6" height="15.3" fill="none" stroke="#020b2e" stroke-width="1.4"/><path d="M1070.2 46.7 L1088.4 64.9 M1088.4 46.7 L1070.2 64.9" stroke="#020b2e" stroke-width="3.7"/><circle cx="1139.7" cy="33.6" r="4.6" fill="none" stroke="#020b2e" stroke-width="1.1"/><circle cx="1160.6" cy="23.3" r="4.6" fill="none" stroke="#020b2e" stroke-width="1.1"/><circle cx="1181.9" cy="33.6" r="5.2" fill="#020b2e"/><rect x="1129.9" y="46.5" width="19.5" height="10.6" fill="none" stroke="#020b2e" stroke-width="1.2"/><rect x="1151.6" y="34.5" width="18.7" height="9.8" fill="none" stroke="#020b2e" stroke-width="1.2"/><rect x="1171.3" y="45.9" width="21.6" height="11.8" fill="#020b2e"/><path d="M1137.6 49.7 L1141.8 53.9 M1141.8 49.7 L1137.6 53.9 M1158.9 37.3 L1163.1 41.5 M1163.1 37.3 L1158.9 41.5" stroke="#020b2e" stroke-width="1.1"/><path d="M1179.5 51.8 L1181.5 53.8 L1185 49.8" fill="none" stroke="#ffffff" stroke-width="1.1"/><path d="M1261.4 18 L1271 26.4 L1266.9 26.9 L1266.4 30.2 L1264.4 35.2 L1260.4 39.8 L1255.3 43.3 L1248.2 46.4 L1240.6 47.4 L1232 46.4 L1239.6 44.9 L1245.7 42.3 L1251.3 38.3 L1254.8 34.2 L1256.3 29.7 L1256.1 26.9 L1251.8 26.4 Z" fill="#020b2e"/><path d="M1231.7 61.1 L1231.7 55.2 L1239 55.2 L1239 52.3 L1254.8 52.3 L1254.8 48.5 L1272 48.5 L1272 61.1 Z" fill="#020b2e"/><path d="M1341.2 29.5 L1345.2 25.9 L1350.3 30.6 L1362.8 18.2 L1366.4 21.8 L1350 38.3 Z" fill="#020b2e"/><path d="M1329.2 44 L1329.2 64.5 Q1329.2 65.8 1328 65.8 L1322 65.8 Q1320.9 65.8 1320.9 64.5 L1320.9 53.6 M1320.9 51.8 L1320.9 44 Q1320.9 42.8 1322 42.8 L1328 42.8 Q1329.2 42.8 1329.2 44" fill="none" stroke="#020b2e" stroke-width="1.25"/><path d="M1329.2 45.6 L1332.8 45.2 Q1336.5 44 1336.9 40 L1337.2 34.5 Q1337.6 32.4 1339.6 32.4 Q1342 32.6 1342.6 34.5 Q1344.2 40 1344.1 45.2 Q1344 48.3 1340.5 51.4 M1329.2 62 L1332.8 63.6 Q1334.2 65.2 1336 65.2 L1346 65.2" fill="none" stroke="#020b2e" stroke-width="1.25"/><rect x="1345.8" y="45.2" width="11.6" height="4.4" rx="2.2" fill="#ffffff" stroke="#020b2e" stroke-width="1.2"/><rect x="1345.8" y="50" width="11.6" height="4.4" rx="2.2" fill="#ffffff" stroke="#020b2e" stroke-width="1.2"/><rect x="1345.8" y="55.2" width="11.6" height="4.4" rx="2.2" fill="#ffffff" stroke="#020b2e" stroke-width="1.2"/><rect x="1345.8" y="60.4" width="11.6" height="4.6" rx="2.2" fill="#ffffff" stroke="#020b2e" stroke-width="1.2"/><path d="M1501 17.4 L1538.4 17.4 Q1541.2 17.6 1539.8 20.6 L1524.8 39.2 L1524.8 60.5 Q1524.5 63 1522.3 62 L1516 55.5 Q1514.5 54 1514.5 51.5 L1514.5 39.2 L1499.6 20.6 Q1498.3 17.6 1501 17.4 Z" fill="#020b2e"/><path d="M1536 49.6 L1546.2 59.8 M1546.2 49.6 L1536 59.8" stroke="#020b2e" stroke-width="2.2"/></svg>
<div class="t" style="left:873.25px;top:60.80px;font-size:8.2px;line-height:20px;color:#111633;font-weight:bold;letter-spacing:0.007px;">Plantilla</div>
<div class="t" style="left:968.05px;top:63.80px;font-size:7px;line-height:20px;color:#111633;font-weight:bold;letter-spacing:-0.041px;">Salario</div>
<div class="t" style="left:1053.65px;top:62.80px;font-size:7px;line-height:20px;color:#111633;font-weight:bold;letter-spacing:-0.003px;">Retiros</div>
<div class="t" style="left:1133.25px;top:61.80px;font-size:9.6px;line-height:20px;color:#111633;font-weight:bold;letter-spacing:-0.027px;">Ausentismo</div>
<div class="t" style="left:1226.05px;top:62.30px;font-size:9px;line-height:20px;color:#111633;font-weight:bold;letter-spacing:0.111px;">Desempeño</div>
<div class="t" style="left:1318.25px;top:64.80px;font-size:7.5px;line-height:20px;color:#111633;font-weight:bold;letter-spacing:-0.135px;">Satisfacción</div>
<div class="t" style="left:1494.80px;top:62.30px;font-size:9px;line-height:20px;color:#111633;font-weight:bold;letter-spacing:-0.185px;">Borrar filtros</div>
</body></html>
